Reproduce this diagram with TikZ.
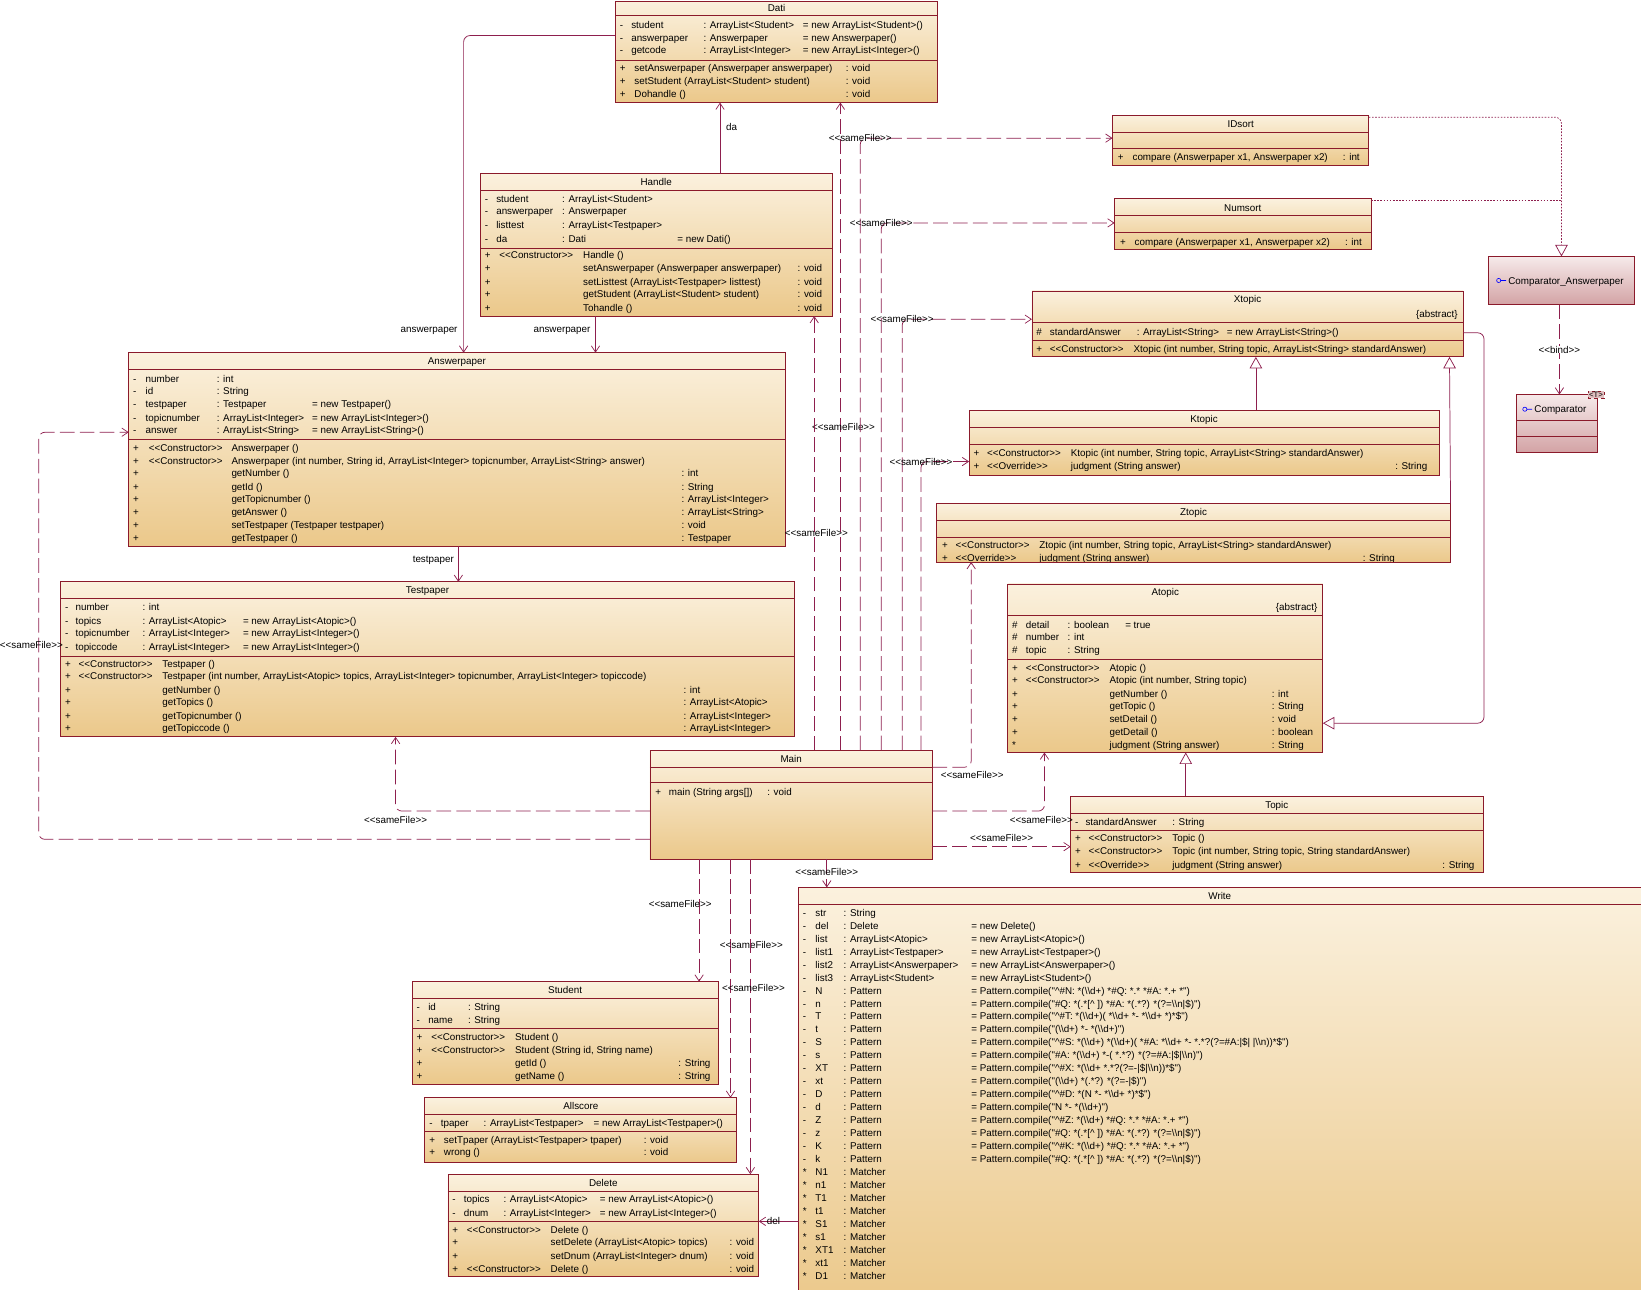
\documentclass[tikz,border=0pt]{standalone}
\usepackage{fontspec}
\setmainfont{Liberation Sans}[Ligatures=TeXOff]
\usetikzlibrary{arrows.meta}
\definecolor{bd}{HTML}{8B1A2B}
\definecolor{lc}{HTML}{8E1F4E}
\definecolor{ca}{HTML}{FBF1DE}
\definecolor{cb}{HTML}{EBC88A}
\definecolor{pa}{HTML}{F6EAEA}
\definecolor{pb}{HTML}{D3A3A5}
\newcommand\BS{\textbackslash}
\newcommand\HAT{\textasciicircum}
\newcommand\rw[2]{\foreach \xx/\tx in {#2}{\node[txt] at (\xx,#1) {\tx};}}
\newcommand\cls[5]{\node[cls,minimum width={(#4)-(#2)},minimum height={(#5)-(#3)},anchor=north west] (#1) at (#2,#3) {};}
\newcommand\sep[2]{\draw[bd,line width=0.7pt] (#1.west |- 0,#2) -- (#1.east |- 0,#2);}
\newcommand\nm[3]{\node[txt,anchor=base] at (#1.north |- 0,#2) {#3};}
\begin{document}
\begin{tikzpicture}[x=1pt,y=-1pt,
 txt/.style={anchor=base west,inner sep=0pt,yshift=-3.4pt,font=\fontsize{9.4}{11}\selectfont},
 cls/.style={draw=bd,line width=0.8pt,inner sep=0pt,outer sep=0pt,top color=ca,bottom color=cb},
 pcls/.style={cls,top color=pa,bottom color=pb},
 ar/.style={draw=lc,line width=0.7pt,-{Straight Barb[length=6pt,width=8pt]},rounded corners=6pt},
 dar/.style={ar,dash pattern=on 14pt off 5pt},
 gen/.style={draw=lc,line width=0.7pt,-{Triangle[open,length=11pt,width=12pt,fill=white]},rounded corners=6pt},
 lb/.style={txt,anchor=base}]
\useasboundingbox (0,0) rectangle (1568,1232);
% ---------------- Dati
\cls{dati}{588}{1}{896}{98}
\nm{dati}{8}{Dati}\sep{dati}{15}\sep{dati}{58}
\rw{24}{592/-,603/student,672/{: ArrayList<Student>},767/{= new ArrayList<Student>()}}
\rw{36}{592/-,603/answerpaper,672/{: Answerpaper},767/{= new Answerpaper()}}
\rw{48}{592/-,603/getcode,672/{: ArrayList<Integer>},767/{= new ArrayList<Integer>()}}
\rw{65}{592/+,606/{setAnswerpaper (Answerpaper answerpaper)},808/{: void}}
\rw{77}{592/+,606/{setStudent (ArrayList<Student> student)},808/{: void}}
\rw{90}{592/+,606/{Dohandle ()},808/{: void}}
% ---------------- Handle
\cls{handle}{459}{166}{795}{302}
\nm{handle}{174}{Handle}\sep{handle}{182}\sep{handle}{237}
\rw{190}{463/-,474/student,537/{: ArrayList<Student>}}
\rw{202}{463/-,474/answerpaper,537/{: Answerpaper}}
\rw{215}{463/-,474/listtest,537/{: ArrayList<Testpaper>}}
\rw{228}{463/-,474/da,537/{: Dati},647/{= new Dati()}}
\rw{244}{463/+,477/{<<Constructor>>},557/{Handle ()}}
\rw{256}{463/+,557/{setAnswerpaper (Answerpaper answerpaper)},762/{: void}}
\rw{269}{463/+,557/{setListtest (ArrayList<Testpaper> listtest)},762/{: void}}
\rw{281}{463/+,557/{getStudent (ArrayList<Student> student)},762/{: void}}
\rw{294}{463/+,557/{Tohandle ()},762/{: void}}
% ---------------- IDsort / Numsort
\cls{idsort}{1063}{110}{1308}{158}
\nm{idsort}{118}{IDsort}\sep{idsort}{126}\sep{idsort}{142}
\rw{150}{1068/+,1082/{compare (Answerpaper x1, Answerpaper x2)},1283/{: int}}
\cls{numsort}{1065}{190}{1310}{238}
\nm{numsort}{199}{Numsort}\sep{numsort}{206}\sep{numsort}{222}
\rw{231}{1070/+,1084/{compare (Answerpaper x1, Answerpaper x2)},1285/{: int}}
% ---------------- Comparators
\cls{compa}{1422}{245}{1562}{291}
\path[pcls] (1422,245) rectangle (1562,291);
\draw[bd,line width=0.8pt] (1422,245) rectangle (1562,291);
\draw[blue,line width=0.6pt] (1432,268) circle (2) (1434,268) -- (1439,268);
\node[txt] at (1441,268) {Comparator\_Answerpaper};
\cls{comp}{1449}{377}{1526}{432}
\path[pcls] (1449,377) rectangle (1526,432);
\draw[bd,line width=0.8pt] (1449,377) rectangle (1526,432);
\sep{comp}{402}\sep{comp}{417}
\draw[blue,line width=0.6pt] (1457,391) circle (2) (1459,391) -- (1464,391);
\node[txt] at (1466,391) {Comparator};
\node[draw=bd,dashed,fill=pb!70,inner sep=0.8pt,font=\fontsize{7.5}{8}\selectfont] (tpl) at (1525,377) {<T>};
\draw[ar,dash pattern=on 14pt off 5pt] (compa.south -| 1490,0) -- (comp.north -| 1490,0);
\node[lb,fill=white] at (1490,334) {<<bind>>};
\draw[gen,dash pattern=on 1.5pt off 1.5pt] (idsort.east |- 0,112) -| (compa.north -| 1492,0);
\draw[lc,line width=0.7pt,dash pattern=on 1.5pt off 1.5pt,rounded corners=6pt] (numsort.east |- 0,191) -- (1492,191);
% ---------------- Xtopic
\cls{xtopic}{986}{278}{1398}{341}
\nm{xtopic}{286}{Xtopic}\sep{xtopic}{308}\sep{xtopic}{325}
\node[txt,anchor=base east] at (1393,300) {\{abstract\}};
\rw{317}{990/\#,1003/standardAnswer,1086/{: ArrayList<String>},1172/{= new ArrayList<String>()}}
\rw{333}{990/+,1003/{<<Constructor>>},1083/{Xtopic (int number, String topic, ArrayList<String> standardAnswer)}}
% ---------------- Ktopic
\cls{ktopic}{926}{392}{1375}{454}
\nm{ktopic}{400}{Ktopic}\sep{ktopic}{408}\sep{ktopic}{425}
\rw{433}{930/+,943/{<<Constructor>>},1023/{Ktopic (int number, String topic, ArrayList<String> standardAnswer)}}
\rw{445}{930/+,943/{<<Override>>},1023/{judgment (String answer)},1333/{: String}}
% ---------------- Ztopic
\cls{ztopic}{895}{481}{1386}{537}
\nm{ztopic}{489}{Ztopic}\sep{ztopic}{497}\sep{ztopic}{513}
\rw{521}{900/+,913/{<<Constructor>>},993/{Ztopic (int number, String topic, ArrayList<String> standardAnswer)}}
\begin{scope}
\clip (895,513) rectangle (1386,536.5);
\rw{533}{900/+,913/{<<Override>>},993/{judgment (String answer)},1302/{: String}}
\end{scope}
% ---------------- Atopic
\cls{atopic}{963}{558}{1264}{719}
\nm{atopic}{566}{Atopic}\sep{atopic}{588}\sep{atopic}{630}
\node[txt,anchor=base east] at (1259,580) {\{abstract\}};
\rw{597}{967/\#,980/detail,1020/{: boolean},1075/{= true}}
\rw{609}{967/\#,980/number,1020/{: int}}
\rw{621}{967/\#,980/topic,1020/{: String}}
\rw{638}{967/+,980/{<<Constructor>>},1060/{Atopic ()}}
\rw{650}{967/+,980/{<<Constructor>>},1060/{Atopic (int number, String topic)}}
\rw{663}{967/+,1060/{getNumber ()},1215/{: int}}
\rw{675}{967/+,1060/{getTopic ()},1215/{: String}}
\rw{687}{967/+,1060/{setDetail ()},1215/{: void}}
\rw{699}{967/+,1060/{getDetail ()},1215/{: boolean}}
\rw{712}{967/*,1060/{judgment (String answer)},1215/{: String}}
% ---------------- Topic
\cls{topic}{1023}{761}{1417}{834}
\nm{topic}{769}{Topic}\sep{topic}{777}\sep{topic}{793}
\rw{785}{1027/-,1037/standardAnswer,1120/{: String}}
\rw{801}{1027/+,1040/{<<Constructor>>},1120/{Topic ()}}
\rw{813}{1027/+,1040/{<<Constructor>>},1120/{Topic (int number, String topic, String standardAnswer)}}
\rw{826}{1027/+,1040/{<<Override>>},1120/{judgment (String answer)},1378/{: String}}
% ---------------- Answerpaper
\cls{answer}{123}{337}{750}{522}
\nm{answer}{345}{Answerpaper}\sep{answer}{353}\sep{answer}{420}
\rw{362}{127/-,139/number,207/{: int}}
\rw{374}{127/-,139/id,207/{: String}}
\rw{386}{127/-,139/testpaper,207/{: Testpaper},298/{= new Testpaper()}}
\rw{399}{127/-,139/topicnumber,207/{: ArrayList<Integer>},298/{= new ArrayList<Integer>()}}
\rw{411}{127/-,139/answer,207/{: ArrayList<String>},298/{= new ArrayList<String>()}}
\rw{428}{127/+,142/{<<Constructor>>},221/{Answerpaper ()}}
\rw{440}{127/+,142/{<<Constructor>>},221/{Answerpaper (int number, String id, ArrayList<Integer> topicnumber, ArrayList<String> answer)}}
\rw{452}{127/+,221/{getNumber ()},651/{: int}}
\rw{465}{127/+,221/{getId ()},651/{: String}}
\rw{477}{127/+,221/{getTopicnumber ()},651/{: ArrayList<Integer>}}
\rw{489}{127/+,221/{getAnswer ()},651/{: ArrayList<String>}}
\rw{502}{127/+,221/{setTestpaper (Testpaper testpaper)},651/{: void}}
\rw{514}{127/+,221/{getTestpaper ()},651/{: Testpaper}}
% ---------------- Testpaper
\cls{testpaper}{58}{556}{759}{704}
\nm{testpaper}{564}{Testpaper}\sep{testpaper}{572}\sep{testpaper}{627}
\rw{580}{62/-,72/number,136/{: int}}
\rw{593}{62/-,72/topics,136/{: ArrayList<Atopic>},232/{= new ArrayList<Atopic>()}}
\rw{605}{62/-,72/topicnumber,136/{: ArrayList<Integer>},232/{= new ArrayList<Integer>()}}
\rw{618}{62/-,72/topiccode,136/{: ArrayList<Integer>},232/{= new ArrayList<Integer>()}}
\rw{634}{62/+,75/{<<Constructor>>},155/{Testpaper ()}}
\rw{646}{62/+,75/{<<Constructor>>},155/{Testpaper (int number, ArrayList<Atopic> topics, ArrayList<Integer> topicnumber, ArrayList<Integer> topiccode)}}
\rw{659}{62/+,155/{getNumber ()},653/{: int}}
\rw{671}{62/+,155/{getTopics ()},653/{: ArrayList<Atopic>}}
\rw{684}{62/+,155/{getTopicnumber ()},653/{: ArrayList<Integer>}}
\rw{696}{62/+,155/{getTopiccode ()},653/{: ArrayList<Integer>}}
% ---------------- Main
\cls{main}{621}{717}{891}{821}
\nm{main}{725}{Main}\sep{main}{733}\sep{main}{748}
\rw{757}{626/+,639/{main (String args[])},733/{: void}}
% ---------------- Student
\cls{student}{394}{938}{686}{1036}
\nm{student}{946}{Student}\sep{student}{954}\sep{student}{983}
\rw{962}{398/-,409/id,447/{: String}}
\rw{975}{398/-,409/name,447/{: String}}
\rw{991}{398/+,412/{<<Constructor>>},492/{Student ()}}
\rw{1003}{398/+,412/{<<Constructor>>},492/{Student (String id, String name)}}
\rw{1016}{398/+,492/{getId ()},648/{: String}}
\rw{1028}{398/+,492/{getName ()},648/{: String}}
% ---------------- Allscore
\cls{allscore}{406}{1049}{704}{1111}
\nm{allscore}{1057}{Allscore}\sep{allscore}{1065}\sep{allscore}{1081}
\rw{1073}{410/-,421/tpaper,462/{: ArrayList<Testpaper>},567/{= new ArrayList<Testpaper>()}}
\rw{1089}{410/+,424/{setTpaper (ArrayList<Testpaper> tpaper)},615/{: void}}
\rw{1101}{410/+,424/{wrong ()},615/{: void}}
% ---------------- Delete
\cls{delete}{428}{1122}{725}{1220}
\nm{delete}{1130}{Delete}\sep{delete}{1138}\sep{delete}{1167}
\rw{1146}{432/-,443/topics,481/{: ArrayList<Atopic>},573/{= new ArrayList<Atopic>()}}
\rw{1159}{432/-,443/dnum,481/{: ArrayList<Integer>},573/{= new ArrayList<Integer>()}}
\rw{1175}{432/+,446/{<<Constructor>>},526/{Delete ()}}
\rw{1187}{432/+,526/{setDelete (ArrayList<Atopic> topics)},697/{: void}}
\rw{1200}{432/+,526/{setDnum (ArrayList<Integer> dnum)},697/{: void}}
\rw{1212}{432/+,446/{<<Constructor>>},526/{Delete ()},697/{: void}}
% ---------------- Write
\cls{write}{763}{848}{1568}{1250}
\nm{write}{856}{Write}\sep{write}{864}
\rw{872}{767/-,779/str,806/{: String}}
\rw{884.4}{767/-,779/del,806/{: Delete},928/{= new Delete()}}
\rw{896.8}{767/-,779/list,806/{: ArrayList<Atopic>},928/{= new ArrayList<Atopic>()}}
\rw{909.2}{767/-,779/list1,806/{: ArrayList<Testpaper>},928/{= new ArrayList<Testpaper>()}}
\rw{921.6}{767/-,779/list2,806/{: ArrayList<Answerpaper>},928/{= new ArrayList<Answerpaper>()}}
\rw{934}{767/-,779/list3,806/{: ArrayList<Student>},928/{= new ArrayList<Student>()}}
\rw{946.4}{767/-,779/N,806/{: Pattern},928/{= Pattern.compile("\HAT\#N: *(\BS\BS d+) *\#Q: *.* *\#A: *.+ *")}}
\rw{958.8}{767/-,779/n,806/{: Pattern},928/{= Pattern.compile("\#Q: *(.*[\HAT\ ]) *\#A: *(.*?) *(?=\BS\BS n|\$)")}}
\rw{971.2}{767/-,779/T,806/{: Pattern},928/{= Pattern.compile("\HAT\#T: *(\BS\BS d+)( *\BS\BS d+ *- *\BS\BS d+ *)*\$")}}
\rw{983.6}{767/-,779/t,806/{: Pattern},928/{= Pattern.compile("(\BS\BS d+) *- *(\BS\BS d+)")}}
\rw{996}{767/-,779/S,806/{: Pattern},928/{= Pattern.compile("\HAT\#S: *(\BS\BS d+) *(\BS\BS d+)( *\#A: *\BS\BS d+ *- *.*?(?=\#A:|\$| |\BS\BS n))*\$")}}
\rw{1008.4}{767/-,779/s,806/{: Pattern},928/{= Pattern.compile("\#A: *(\BS\BS d+) *-( *.*?) *(?=\#A:|\$|\BS\BS n)")}}
\rw{1020.8}{767/-,779/XT,806/{: Pattern},928/{= Pattern.compile("\HAT\#X: *(\BS\BS d+ *.*?(?=-|\$|\BS\BS n))*\$")}}
\rw{1033.2}{767/-,779/xt,806/{: Pattern},928/{= Pattern.compile("(\BS\BS d+) *(.*?) *(?=-|\$)")}}
\rw{1045.6}{767/-,779/D,806/{: Pattern},928/{= Pattern.compile("\HAT\#D: *(N *- *\BS\BS d+ *)*\$")}}
\rw{1058}{767/-,779/d,806/{: Pattern},928/{= Pattern.compile("N *- *(\BS\BS d+)")}}
\rw{1070.4}{767/-,779/Z,806/{: Pattern},928/{= Pattern.compile("\HAT\#Z: *(\BS\BS d+) *\#Q: *.* *\#A: *.+ *")}}
\rw{1082.8}{767/-,779/z,806/{: Pattern},928/{= Pattern.compile("\#Q: *(.*[\HAT\ ]) *\#A: *(.*?) *(?=\BS\BS n|\$)")}}
\rw{1095.2}{767/-,779/K,806/{: Pattern},928/{= Pattern.compile("\HAT\#K: *(\BS\BS d+) *\#Q: *.* *\#A: *.+ *")}}
\rw{1107.6}{767/-,779/k,806/{: Pattern},928/{= Pattern.compile("\#Q: *(.*[\HAT\ ]) *\#A: *(.*?) *(?=\BS\BS n|\$)")}}
\rw{1120}{767/*,779/N1,806/{: Matcher}}
\rw{1132.4}{767/*,779/n1,806/{: Matcher}}
\rw{1144.8}{767/*,779/T1,806/{: Matcher}}
\rw{1157.2}{767/*,779/t1,806/{: Matcher}}
\rw{1169.6}{767/*,779/S1,806/{: Matcher}}
\rw{1182}{767/*,779/s1,806/{: Matcher}}
\rw{1194.4}{767/*,779/XT1,806/{: Matcher}}
\rw{1206.8}{767/*,779/xt1,806/{: Matcher}}
\rw{1219.2}{767/*,779/D1,806/{: Matcher}}
% ---------------- associations
\draw[ar] (688,0 |- handle.north) -- (688,0 |- dati.south);
\node[lb] at (699,121) {da};
\draw[ar] (dati.west |- 0,34) -| (443,0 |- answer.north);
\node[lb] at (410,314) {answerpaper};
\draw[ar] (569,0 |- handle.south) -- (569,0 |- answer.north);
\node[lb] at (537,314) {answerpaper};
\draw[ar] (438,0 |- answer.south) -- (438,0 |- testpaper.north);
\node[lb] at (414,534) {testpaper};
\draw[ar] (write.west |- 0,1167) -- (delete.east |- 0,1167);
\node[lb] at (739,1167) {del};
% generalizations
\draw[gen] (1200,0 |- ktopic.north) -- (1200,0 |- xtopic.south);
\draw[gen] (ztopic.east |- 0,481) -- (1385,0 |- xtopic.south);
\draw[gen] (xtopic.east |- 0,318) -| (1418,500) |- (atopic.east |- 0,691);
\draw[gen] (1133,0 |- topic.north) -- (1133,0 |- atopic.south);
% ---------------- sameFile dependencies
\draw[dar] (803,0 |- main.north) -- (803,0 |- dati.south);
\node[lb] at (806,408) {<<sameFile>>};
\draw[dar] (822,0 |- main.north) |- (idsort.west |- 0,132);
\node[lb] at (822,132) {<<sameFile>>};
\draw[dar] (842,0 |- main.north) |- (numsort.west |- 0,213);
\node[lb] at (842,213) {<<sameFile>>};
\draw[dar] (862,0 |- main.north) |- (xtopic.west |- 0,305);
\node[lb] at (862,305) {<<sameFile>>};
\draw[dar] (880,0 |- main.north) |- (ktopic.west |- 0,441);
\node[lb] at (880,441) {<<sameFile>>};
\draw[dar] (778,0 |- main.north) -- (778,0 |- handle.south);
\node[lb] at (780,509) {<<sameFile>>};
\draw[dar] (main.west |- 0,775) -| (378,0 |- testpaper.south);
\node[lb] at (378,783) {<<sameFile>>};
\draw[dar] (main.west |- 0,802) -| (37,500) |- (answer.west |- 0,413);
\node[lb] at (30,616) {<<sameFile>>};
\draw[dar] (main.east |- 0,733) -| (928,0 |- ztopic.south);
\node[lb] at (929,740) {<<sameFile>>};
\draw[dar] (main.east |- 0,775) -| (998,0 |- atopic.south);
\node[lb] at (995,783) {<<sameFile>>};
\draw[dar] (main.east |- 0,809) -- (topic.west |- 0,809);
\node[lb] at (957,801) {<<sameFile>>};
\draw[dar] (790,0 |- main.south) -- (790,0 |- write.north);
\node[lb] at (790,833) {<<sameFile>>};
\draw[dar] (668,0 |- main.south) -- (668,0 |- student.north);
\node[lb] at (650,864) {<<sameFile>>};
\draw[dar] (698,0 |- main.south) -- (698,0 |- allscore.north);
\node[lb] at (718,903) {<<sameFile>>};
\draw[dar] (717,0 |- main.south) -- (717,0 |- delete.north);
\node[lb] at (720,944) {<<sameFile>>};
\end{tikzpicture}
\end{document}
